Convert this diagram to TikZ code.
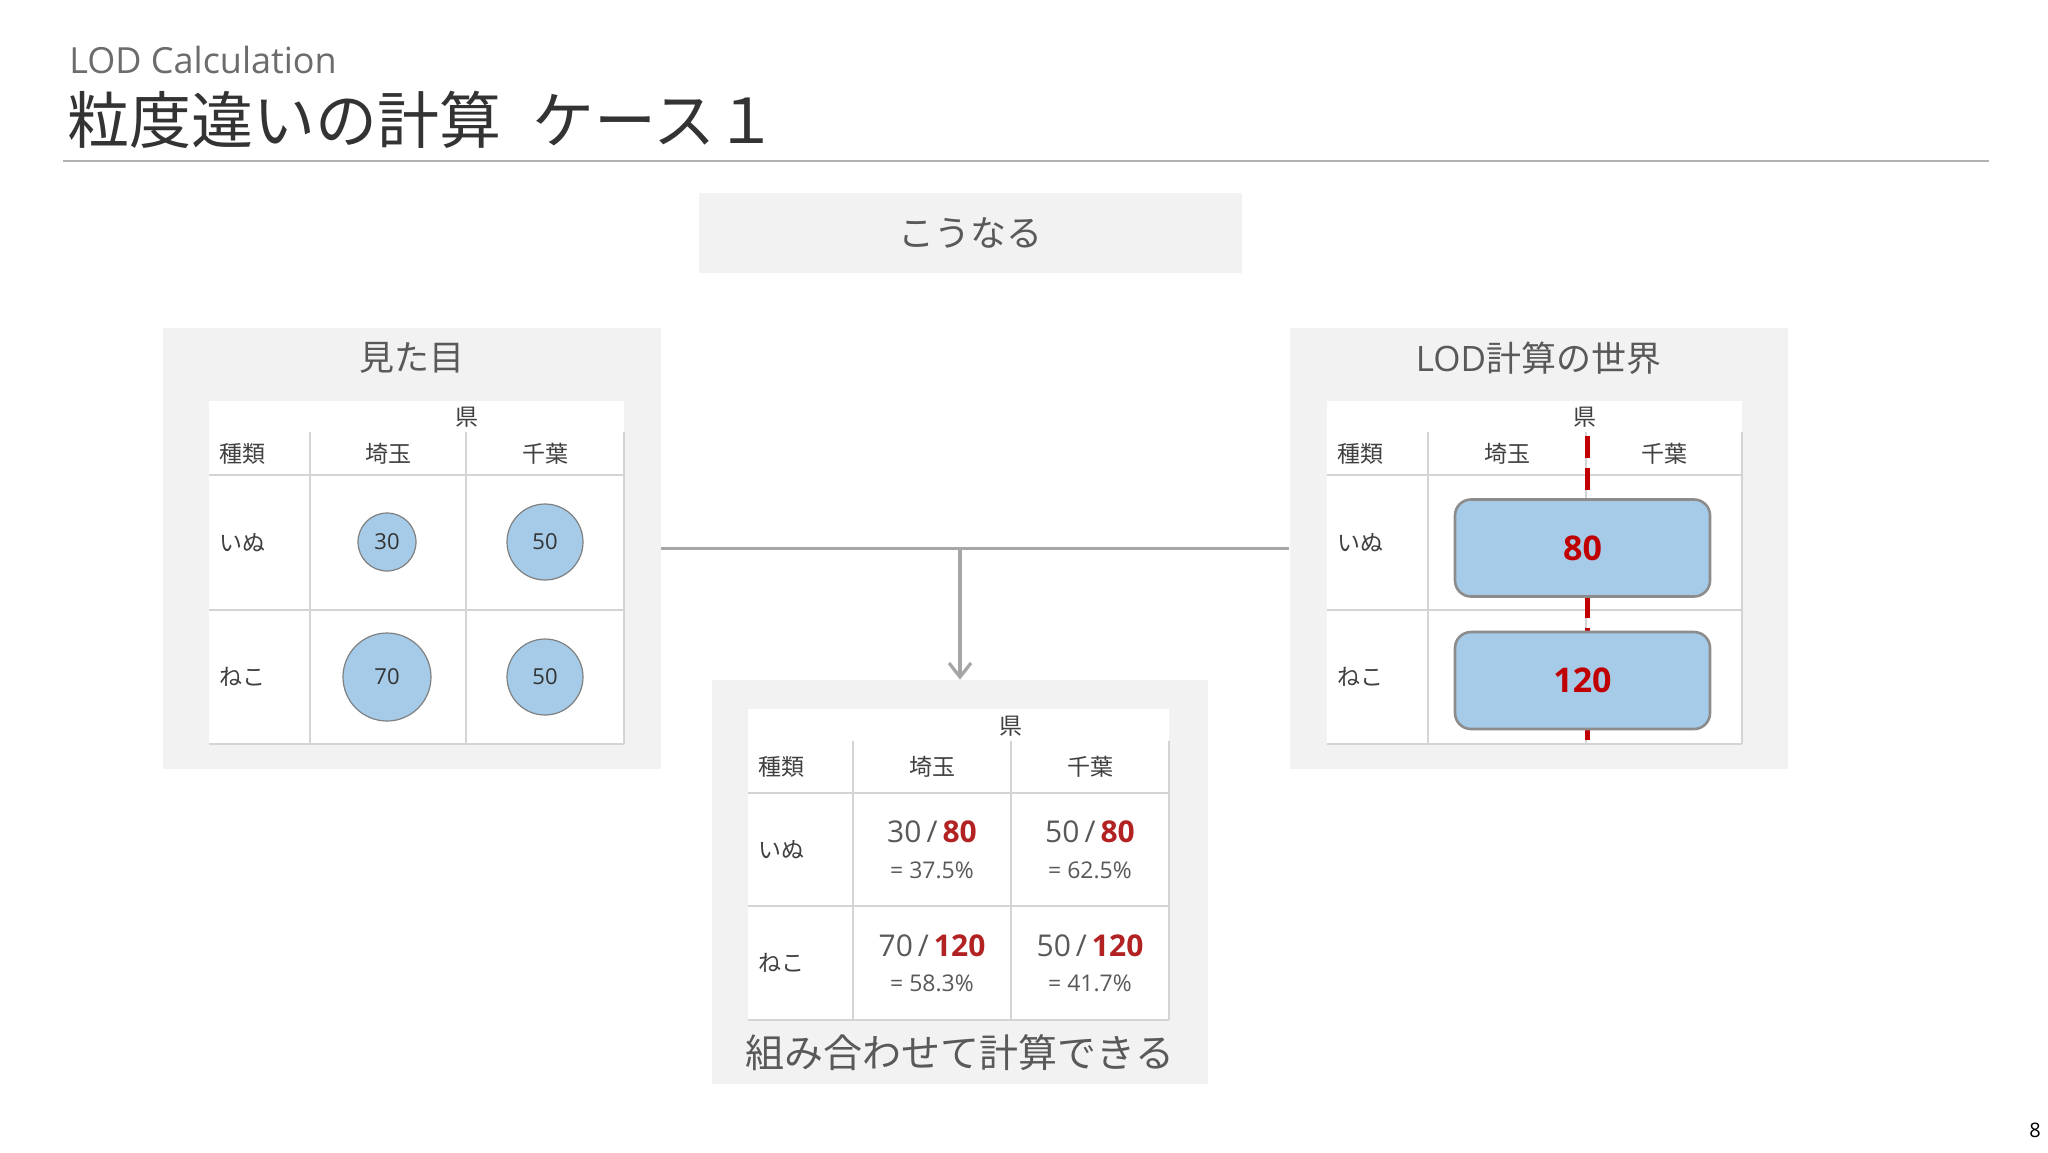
\documentclass[tikz,border=0pt]{standalone}
\usepackage{fontspec}
\setmainfont{Noto Sans CJK JP}
\newfontfamily\lat{Open Sans}
\usetikzlibrary{arrows.meta}
\definecolor{txt}{HTML}{595959}
\definecolor{panelbg}{HTML}{F2F2F2}
\definecolor{grid}{HTML}{D4D4D4}
\definecolor{blu}{HTML}{A5CBE8}
\definecolor{redA}{HTML}{C00000}
\definecolor{redB}{HTML}{B22222}
\definecolor{conn}{HTML}{A6A6A6}
\tikzset{
  panel/.style={fill=panelbg, draw=none, inner sep=0pt},
  tt/.style={text=black!75, inner sep=0pt, font=\fontsize{11.5}{13}\selectfont},
  bub/.style={circle, fill=blu, draw=gray, line width=0.6pt, inner sep=0pt, text=black!80, font=\lat\fontsize{11}{13}\selectfont},
  bar/.style={rounded corners=8pt, fill=blu, draw=gray!90, line width=1.3pt, minimum width=127.5pt, minimum height=48.5pt, text=redA, font=\lat\bfseries\fontsize{17}{20}\selectfont},
  gl/.style={draw=grid, line width=0.8pt},
  big/.style={text=txt, inner sep=0pt, font=\lat\fontsize{15}{18}\selectfont},
  pct/.style={text=txt, inner sep=0pt, font=\lat\fontsize{11.5}{14}\selectfont},
}
% #1 prefix, #2-#5 x0..x3, #6 ytop, #7 yvstart, #8 yhead, #9 y1 ; bottom given by \tbot
\newcommand\mytbl[9]{%
  \fill[white] (#2,#6) rectangle (#5,\tbot);
  \draw[gl] (#3,#7) -- (#3,\tbot) (#4,#7) -- (#4,\tbot) (#5,#7) -- (#5,\tbot);
  \draw[gl] (#2,#8) -- (#5,#8) (#2,#9) -- (#5,#9) (#2,\tbot) -- (#5,\tbot);
  \node[tt] (#1-ken) at ({(#3+#5)/2},{(#6+#7)/2+1}) {県};
  \node[tt, anchor=west] (#1-sh) at (#2+10,{(#7+#8)/2}) {種類};
  \node[tt] (#1-sa) at ({(#3+#4)/2},{(#7+#8)/2}) {埼玉};
  \node[tt] (#1-ch) at ({(#4+#5)/2},{(#7+#8)/2}) {千葉};
  \node[tt, anchor=west] (#1-in) at (#2+10,{(#8+#9)/2}) {いぬ};
  \node[tt, anchor=west] (#1-ne) at (#2+10,{(#9+\tbot)/2}) {ねこ};
}
\begin{document}
\begin{tikzpicture}[x=0.5pt,y=-0.5pt]
\useasboundingbox[fill=white] (0,0) rectangle (2048,1152);
% header
\node[anchor=base west, inner sep=0pt, text=gray!85!black, font=\lat\fontsize{18}{20}\selectfont] (sub) at (69,73) {LOD Calculation};
\node[anchor=base west, inner sep=0pt, text=black!80, font=\fontsize{31}{34}\selectfont] (ttl) at (67,143) {粒度違いの計算\hspace{0.5em}ケース１};
\draw[gray!60, line width=0.7pt] (63,161) coordinate (l1) -- (1989,161) coordinate (l2);
\node[panel, minimum width=271.5pt, minimum height=40pt, text=txt, font=\fontsize{18}{20}\selectfont] (kou) at (970.5,233) {こうなる};
% panels
\node[panel, minimum width=249pt, minimum height=220.5pt] (lp) at (412,548.5) {};
\node[panel, minimum width=249pt, minimum height=220.5pt] (rp) at (1538.5,548.5) {};
\node[panel, minimum width=248pt, minimum height=202pt] (bp) at (960,882) {};
\node[text=txt, inner sep=0pt, font=\fontsize{17.5}{20}\selectfont] (lpt) at (412,358) {見た目};
\node[text=txt, inner sep=0pt, font=\fontsize{17.5}{20}\selectfont] (rpt) at (1538.5,358) {{\lat LOD}計算の世界};
\node[text=txt, inner sep=0pt, font=\fontsize{19.5}{22}\selectfont] (bpt) at (960,1053) {組み合わせて計算できる};
% connectors
\draw[conn, line width=1.6pt] (lp.east) -- (rp.west);
\coordinate (j) at (960,548.5);
\draw[conn, line width=1.6pt, -{Straight Barb[length=7pt,width=11pt]}] (j) -- (bp.north);
% left table
\def\tbot{744}
\mytbl{L}{209}{310}{466}{624}{401}{432}{475}{610}
\node[bub, minimum size=29pt] (c1) at (387,542) {30};
\node[bub, minimum size=38pt] (c2) at (545,542) {50};
\node[bub, minimum size=44pt] (c3) at (387,677) {70};
\node[bub, minimum size=38pt] (c4) at (545,677) {50};
% right table
\mytbl{R}{1327}{1428}{1586}{1742}{401}{432}{475}{610}
\coordinate (dtop) at (1587,436);
\coordinate (dbot) at (1587,740);
\draw[redA, line width=2.5pt, dash pattern=on 11pt off 5pt] (dtop) -- (dbot);
\node[bar] (b80) at (1582.5,548) {80};
\node[bar] (b120) at (1582.5,680.5) {120};
% bottom table
\def\tbot{1020}
\mytbl{B}{748}{853}{1011}{1169}{709}{741}{793}{906}
\node[big] (p1) at (932,832) {30\,/\,\textcolor{redB}{\bfseries 80}};
\node[pct] (q1) at (932,870) {= 37.5\%};
\node[big] (p2) at (1090,832) {50\,/\,\textcolor{redB}{\bfseries 80}};
\node[pct] (q2) at (1090,870) {= 62.5\%};
\node[big] (p3) at (932,946) {70\,/\,\textcolor{redB}{\bfseries 120}};
\node[pct] (q3) at (932,983) {= 58.3\%};
\node[big] (p4) at (1090,946) {50\,/\,\textcolor{redB}{\bfseries 120}};
\node[pct] (q4) at (1090,983) {= 41.7\%};
\node[inner sep=0pt, font=\lat\fontsize{10}{12}\selectfont] (pg) at (2035,1130) {8};
\end{tikzpicture}
\end{document}
